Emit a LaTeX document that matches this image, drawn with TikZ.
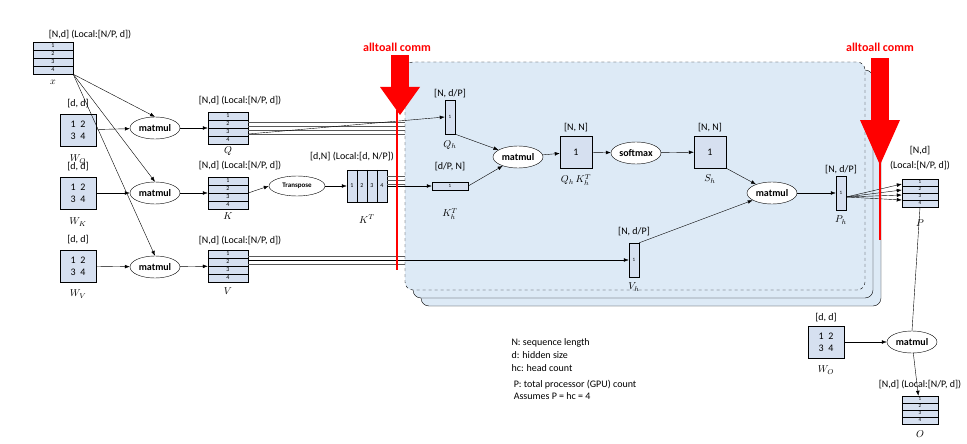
\documentclass[tikz,border=0pt]{standalone}
\usepackage{fontspec}
\setmainfont{Carlito}
\usetikzlibrary{arrows.meta, positioning, calc, shapes.geometric}

\definecolor{matblue}{RGB}{214,224,240}
\definecolor{panelblue}{RGB}{221,234,246}

\tikzset{
    mat/.style={draw, fill=matblue, inner sep=0pt},
    op/.style={draw, ellipse, fill=white, minimum width=50, minimum height=22, inner sep=0pt, font=\bfseries},
    lbl/.style={font=\normalsize},
    arrow/.style={-{Latex[length=5pt]}, thin},
    wire/.style={gray!70!black, thin},
    panel/.style={draw, rounded corners=8, fill=panelblue}
}

% matrix with 4 rows: name, position
\newcommand{\rowmat}[2]{%
  \node[mat, minimum width=40, minimum height=32] (#1) at (#2) {};
  \foreach \i in {1,2,3} \draw ($(#1.north west)+(0,8*\i)$) -- ($(#1.north east)+(0,8*\i)$);
  \foreach \i in {1,...,4} \node[font=\fontsize{6}{6}\selectfont, inner sep=0pt] at ($(#1.north)+(0,8*\i-4)$) {\i};
}
% weight matrix d x d
\newcommand{\wmat}[2]{%
  \node[mat, minimum width=36, minimum height=32, align=center] (#1) at (#2) {1\ \ 2\\3\ \ 4};
}

\begin{document}
\begin{tikzpicture}[x=1pt, y=-1pt]
\useasboundingbox (0,0) rectangle (967,444);

% panel stack
\draw[panel] (421,78) rectangle (881,306);
\draw[panel] (413,70) rectangle (873,298);
\draw[panel, dashed] (405,62) rectangle (865,290);

% inputs
\rowmat{x}{53,58}
\node[lbl] at (90,35) {[N,d] (Local:[N/P, d])};
\node at (53,82) {$x$};

\wmat{wq}{78,130}
\node[lbl] at (78,104) {[d, d]};
\node at (78,160) {$W_Q$};
\wmat{wk}{78,193}
\node[lbl] at (78,167) {[d, d]};
\node at (78,222) {$W_K$};
\wmat{wv}{78,266}
\node[lbl] at (78,240) {[d, d]};
\node at (78,294) {$W_V$};

\node[op] (mmq) at (155,128) {matmul};
\node[op] (mmk) at (155,193) {matmul};
\node[op] (mmv) at (155,267) {matmul};

\rowmat{q}{228,128}
\node[lbl] at (240,101) {[N,d] (Local:[N/P, d])};
\node at (228,151) {$Q$};
\rowmat{k}{228,193}
\node[lbl] at (240,166) {[N,d] (Local:[N/P, d])};
\node at (228,216) {$K$};
\rowmat{v}{228,266}
\node[lbl] at (240,241) {[N,d] (Local:[N/P, d])};
\node at (228,291) {$V$};

\node[op, minimum width=56, minimum height=20, font=\bfseries\scriptsize] (tr) at (297,186) {Transpose};

% K^T with 4 columns
\node[mat, minimum width=40, minimum height=32] (kt) at (367,186) {};
\foreach \i in {1,2,3} \draw ($(kt.north west)+(10*\i,0)$) -- ($(kt.south west)+(10*\i,0)$);
\foreach \i in {1,...,4} \node[font=\fontsize{6}{6}\selectfont, inner sep=0pt] at ($(kt.west)+(10*\i-5,0)$) {\i};
\node[lbl] at (352,157) {[d,N] (Local:[d, N/P])};
\node at (367,219) {$K^T$};

% per-head nodes
\node[mat, minimum width=10, minimum height=34, font=\tiny] (qh) at (450,117) {1};
\node[lbl] at (450,94) {[N, d/P]};
\node at (450,145) {$Q_h$};
\node[mat, minimum width=36, minimum height=8, font=\tiny] (kh) at (450,186) {1};
\node[lbl] at (450,167) {[d/P, N]};
\node at (450,214) {$K_h^T$};

\node[op] (mm1) at (518,157) {matmul};
\node[mat, minimum width=32, minimum height=32] (qk) at (576,152) {1};
\node[lbl] at (576,128) {[N, N]};
\node at (576,180) {$Q_h\,K_h^T$};
\node[op] (sm) at (636,153) {softmax};
\node[mat, minimum width=32, minimum height=32] (sh) at (710,152) {1};
\node[lbl] at (710,128) {[N, N]};
\node at (710,179) {$S_h$};
\node[op] (mm2) at (772,193) {matmul};
\node[mat, minimum width=10, minimum height=34, font=\tiny] (ph) at (841,193) {1};
\node[lbl] at (841,170) {[N, d/P]};
\node at (841,220) {$P_h$};
\node[mat, minimum width=10, minimum height=34, font=\tiny] (vh) at (634,260) {1};
\node[lbl] at (634,232) {[N, d/P]};
\node at (634,287) {$V_h$};

% output
\node[mat, minimum width=36, minimum height=28] (p) at (920,193) {};
\foreach \i in {1,2,3} \draw ($(p.north west)+(0,7*\i)$) -- ($(p.north east)+(0,7*\i)$);
\foreach \i in {1,...,4} \node[font=\fontsize{5}{5}\selectfont, inner sep=0pt] at ($(p.north)+(0,7*\i-3.5)$) {\i};
\node[lbl] at (920,151) {[N,d]};
\node[lbl] at (920,166) {(Local:[N/P, d])};
\node at (920,223) {$P$};

\wmat{wo}{826,342}
\node[lbl] at (826,318) {[d, d]};
\node at (826,370) {$W_O$};
\node[op] (mm3) at (912,342) {matmul};
\node[mat, minimum width=36, minimum height=28] (o) at (920,410) {};
\foreach \i in {1,2,3} \draw ($(o.north west)+(0,7*\i)$) -- ($(o.north east)+(0,7*\i)$);
\foreach \i in {1,...,4} \node[font=\fontsize{5}{5}\selectfont, inner sep=0pt] at ($(o.north)+(0,7*\i-3.5)$) {\i};
\node[lbl] at (920,385) {[N,d] (Local:[N/P, d])};
\node at (920,434) {$O$};

% legend
\node[align=left, anchor=north west] (legend) at (508,335) {N: sequence length\\[1pt] d: hidden size\\[1pt] hc: head count\\[4pt] \ P: total processor (GPU) count\\ \ Assumes P = hc = 4};

% arrows
\draw[arrow] (x.south east) -- (mmq.north);
\draw[arrow] (x.south east) -- (mmk.north);
\draw[arrow] (x.south east) -- (mmv.north);
\draw[arrow] (wq) -- (mmq);
\draw[arrow] (wk) -- (mmk);
\draw[arrow] (wv) -- (mmv);
\draw[arrow] (mmq) -- (q);
\draw[arrow] (mmk) -- (k);
\draw[arrow] (mmv) -- (v);
\draw[arrow] (k.east) -- (tr.west);
\draw[arrow] (tr) -- (kt);
\foreach \d in {-6,-2,2,6} \draw[wire] ([yshift=\d]q.east) -- ++(157,0);
\draw[arrow] ([yshift=-6]q.east) -- (qh.west);
\foreach \d in {2,6,10} \draw[wire] ([yshift=\d]kt.east) -- ++(18,0);
\draw[arrow] (kt.east) -- (kh.west);
\foreach \d in {2,6,10} \draw[wire] ([yshift=\d]v.east) -- ++(157,0);
\draw[arrow] (vh.west -| v.east) -- (vh.west);
\draw[arrow] (qh.south east) -- (mm1);
\draw[arrow] (kh.east) -- (mm1);
\draw[arrow] (mm1) -- (qk);
\draw[arrow] (qk) -- (sm);
\draw[arrow] (sm) -- (sh);
\draw[arrow] (sh.south east) -- (mm2);
\draw[arrow] (vh.north east) -- (mm2);
\draw[arrow] (mm2) -- (ph);
\foreach \d in {-7,-2,3,9} \draw[arrow] ([yshift=-4]ph.east) -- ([yshift=\d]p.west);
\draw[thin] (p.south) -- (mm3.north);
\draw[arrow] (wo) -- (mm3);
\draw[arrow] (mm3) -- (o);

% alltoall communication
\coordinate (a1) at (400,55);
\coordinate (a2) at (880,58);
\fill[red] ($(a1)+(-9,0)$) rectangle ($(a1)+(9,32)$);
\fill[red] ($(a1)+(-20,32)$) -- ($(a1)+(20,32)$) -- ($(a1)+(0,60)$) -- cycle;
\draw[red, line width=2.5pt] (397,110) -- (397,270);
\node[red, font=\bfseries\large] at (397,47) {alltoall comm};
\fill[red] ($(a2)+(-9,0)$) rectangle ($(a2)+(9,62)$);
\fill[red] ($(a2)+(-20,62)$) -- ($(a2)+(20,62)$) -- ($(a2)+(0,107)$) -- cycle;
\draw[red, line width=2.5pt] (880,160) -- (880,240);
\node[red, font=\bfseries\large] at (880,47) {alltoall comm};

\end{tikzpicture}
\end{document}
